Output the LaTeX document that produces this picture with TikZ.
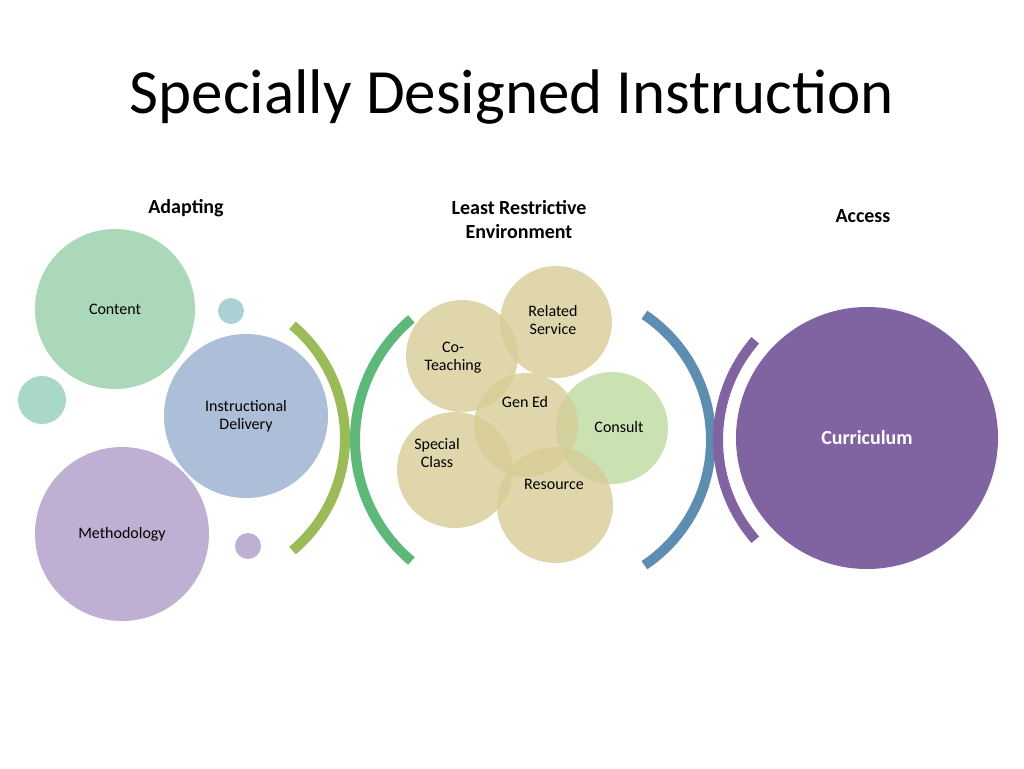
\documentclass[tikz,border=0pt]{standalone}
\usepackage{fontspec}
\setmainfont{Carlito}
\begin{document}
\begin{tikzpicture}[x=1pt,y=-1pt,
  circ/.style={circle,inner sep=0pt,align=center,font=\fontsize{16}{18}\selectfont},
  tan/.style={circ,fill={rgb,255:red,215;green,204;blue,150},fill opacity=0.8,text opacity=1},
  lbl/.style={font=\fontsize{16}{18}\selectfont,align=center},
  arcst/.style={line width=10pt},
  hd/.style={font=\bfseries\fontsize{20}{24}\selectfont,align=center}]
\useasboundingbox (0,0) rectangle (1024,768);
\definecolor{cg}{RGB}{170,216,184}
\definecolor{cb}{RGB}{173,191,216}
\definecolor{cp}{RGB}{191,176,211}
\node[font=\fontsize{63}{66}\selectfont] (title) at (512,97) {Specially Designed Instruction};
\node[hd] (h1) at (186,208) {Adapting};
\node[hd] (h2) at (519,220) {Least Restrictive\\Environment};
\node[hd] (h3) at (863,216) {Access};
\node[circ,fill=cg,minimum size=160pt] (content) at (115,309) {Content};
\node[circ,fill={rgb,255:red,171;green,208;blue,214},minimum size=26pt] (s1) at (231,311) {};
\node[circ,fill={rgb,255:red,170;green,216;blue,200},minimum size=48pt] (s2) at (42,400) {};
\node[circ,fill=cb,minimum size=164pt] (deliv) at (246,416) {Instructional\\Delivery};
\node[circ,fill=cp,minimum size=174pt] (meth) at (122,534) {Methodology};
\node[circ,fill=cp,minimum size=26pt] (s3) at (248,546) {};
\draw[arcst,color={rgb,255:red,155;green,187;blue,89}] (198,438) ++(-50:147) arc[start angle=-50,end angle=50,radius=147];
\draw[arcst,color={rgb,255:red,93;green,184;blue,122}] (513,440) ++(130:158) arc[start angle=130,end angle=230,radius=158];
\draw[arcst,color={rgb,255:red,93;green,141;blue,176}] (560,440) ++(-56:151) arc[start angle=-56,end angle=56,radius=151];
\draw[arcst,color={rgb,255:red,128;green,100;blue,162}] (870,440) ++(139:152) arc[start angle=139,end angle=221,radius=152];
\node[circ,fill={rgb,255:red,128;green,100;blue,162},minimum size=262pt,text=white,font=\bfseries\fontsize{20}{24}\selectfont] (curr) at (867,438) {Curriculum};
\node[tan,minimum size=112pt] (co) at (462,356) {};
\node[tan,minimum size=112pt] (rel) at (556,322) {};
\node[circ,fill={rgb,255:red,196;green,223;blue,170},fill opacity=0.9,minimum size=112pt] (cons) at (612,428) {};
\node[tan,minimum size=116pt] (spec) at (455,470) {};
\node[tan,minimum size=116pt] (res) at (555,505) {};
\node[tan,minimum size=104pt] (gen) at (526,425) {};
\node[lbl] (genl) at (525,402) {Gen Ed};
\node[lbl] (resl) at (554,484) {Resource};
\node[lbl] (specl) at (437,453) {Special\\Class};
\node[lbl] (col) at (453,358) {Co-\\Teaching};
\node[lbl] (rell) at (553,320) {Related\\Service};
\node[lbl] (consl) at (619,427) {Consult};
\end{tikzpicture}
\end{document}
